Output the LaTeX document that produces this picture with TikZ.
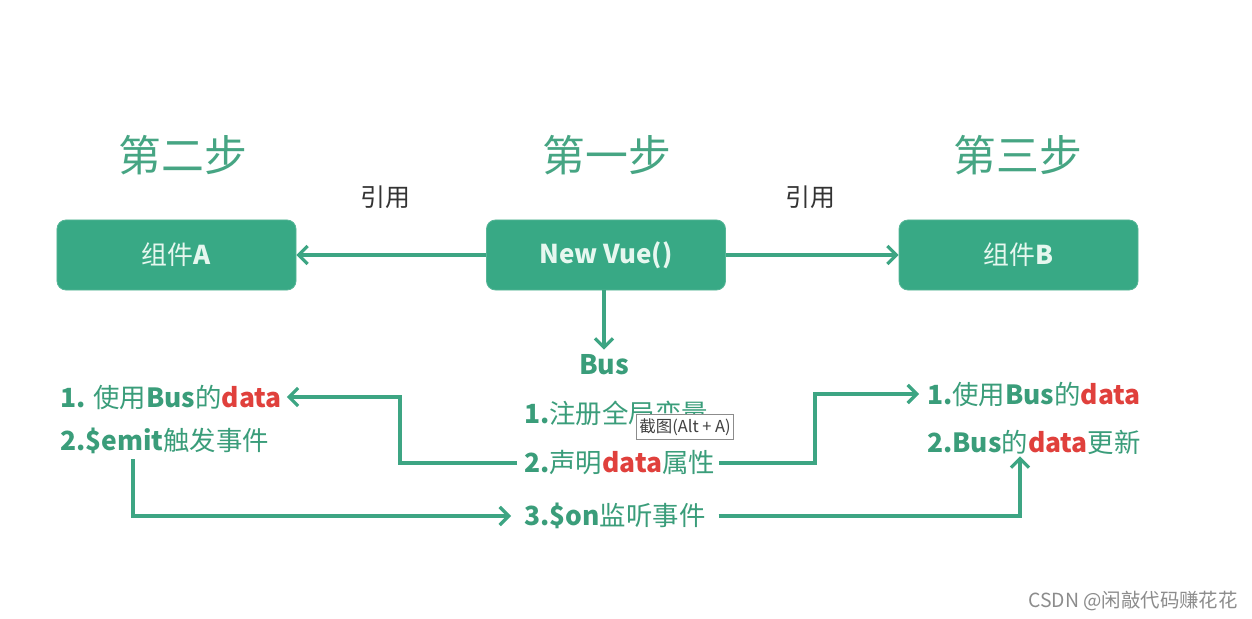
\documentclass[tikz,border=0pt]{standalone}
\usepackage{fontspec}
\setmainfont{Noto Sans CJK SC}
\usetikzlibrary{arrows.meta}
\definecolor{gtext}{HTML}{3A9D7A}
\definecolor{ghead}{HTML}{46A583}
\definecolor{boxfill}{HTML}{38A985}
\definecolor{boxtext}{HTML}{E6F7EF}
\definecolor{rtext}{HTML}{E0403C}
\definecolor{conn}{HTML}{3DA583}
\newcommand{\dat}{\textbf{\textcolor{rtext}{data}}}
\begin{document}
\begin{tikzpicture}[x=1bp,y=-1bp,
  headtxt/.style={text=ghead,font=\fontsize{43}{46}\selectfont,inner sep=2bp},
  reftxt/.style={text=black!80,font=\fontsize{25}{28}\selectfont,inner sep=2bp},
  compbox/.style={fill=boxfill,draw=boxfill!85!white,line width=0.8bp,rounded corners=9bp,minimum width=239bp,minimum height=70bp,text=boxtext,font=\fontsize{26}{30}\selectfont},
  itemtxt/.style={text=gtext,font=\fontsize{26.5}{30}\selectfont,inner sep=5bp,anchor=west},
  link/.style={draw=conn,line width=3.2bp,-{Straight Barb[length=9bp,width=18bp,line width=3.2bp]}}
]
\useasboundingbox (0,0) rectangle (1252,619);
\fill[white] (0,0) rectangle (1252,619);

% headers
\node[headtxt] (h2) at (183,155) {第二步};
\node[headtxt] (h1) at (607,155) {第一步};
\node[headtxt] (h3) at (1018,155) {第三步};
\node[reftxt] (r1) at (385,197) {引用};
\node[reftxt] (r2) at (810,197) {引用};

% boxes
\node[compbox] (ca) at (176.5,255) {组件\textbf{A}};
\node[compbox] (vue) at (606,255) {\textbf{New Vue()}};
\node[compbox] (cb) at (1018.5,255) {组件\textbf{B}};

\draw[link] (vue.west) -- (ca.east);
\draw[link] (vue.east) -- (cb.west);

% Bus
\node[text=gtext,font=\fontsize{27}{30}\selectfont\bfseries,inner sep=4bp] (bus) at (604,365) {Bus};
\draw[link,shorten >=1bp] (vue.south -| bus) -- (bus.north);

% left items
\node[itemtxt] (l1) at (55,397) {\textbf{1.} 使用\textbf{Bus}的\dat};
\node[itemtxt] (l2) at (55,441) {\textbf{2.\$emit}触发事件};

% middle items
\node[itemtxt] (m1) at (519,413) {\textbf{1.}注册全局变量};
\node[itemtxt] (m2) at (519,463) {\textbf{2.}声明\dat 属性};
\node[itemtxt] (m3) at (519,516) {\textbf{3.\$on}监听事件};

% right items
\node[itemtxt] (q1) at (922,394) {\textbf{1.}使用\textbf{Bus}的\dat};
\node[itemtxt] (q2) at (922,442) {\textbf{2.Bus}的\dat 更新};

% connectors
\coordinate (kl) at (400,0);
\coordinate (kr) at (815,0);
\coordinate (ke) at (133,0);
\coordinate (ko) at (1020,0);
\draw[link] ([xshift=-2bp]m2.west) -- (m2.west -| kl) |- (l1.east);
\draw[link] ([xshift=-1bp]m2.east) -- (m2.east -| kr) |- ([xshift=-3bp]q1.west);
\draw[link] (l2.south -| ke) |- ([xshift=-8bp]m3.west);
\draw[link] ([xshift=8bp]m3.east) -| ([yshift=3bp]q2.south -| ko);

% screenshot tooltip
\node[draw=black!45,fill=white,line width=0.8bp,text=black!75,font=\fontsize{16.5}{18}\selectfont,inner sep=3bp,minimum height=25bp,anchor=west] (tip) at (636,427) {截图(Alt + A)};

% watermark
\node[text=black!45,font=\fontsize{19.5}{22}\selectfont,anchor=east,inner sep=2bp] (wm) at (1240,601) {CSDN @闲敲代码赚花花};
\end{tikzpicture}
\end{document}
